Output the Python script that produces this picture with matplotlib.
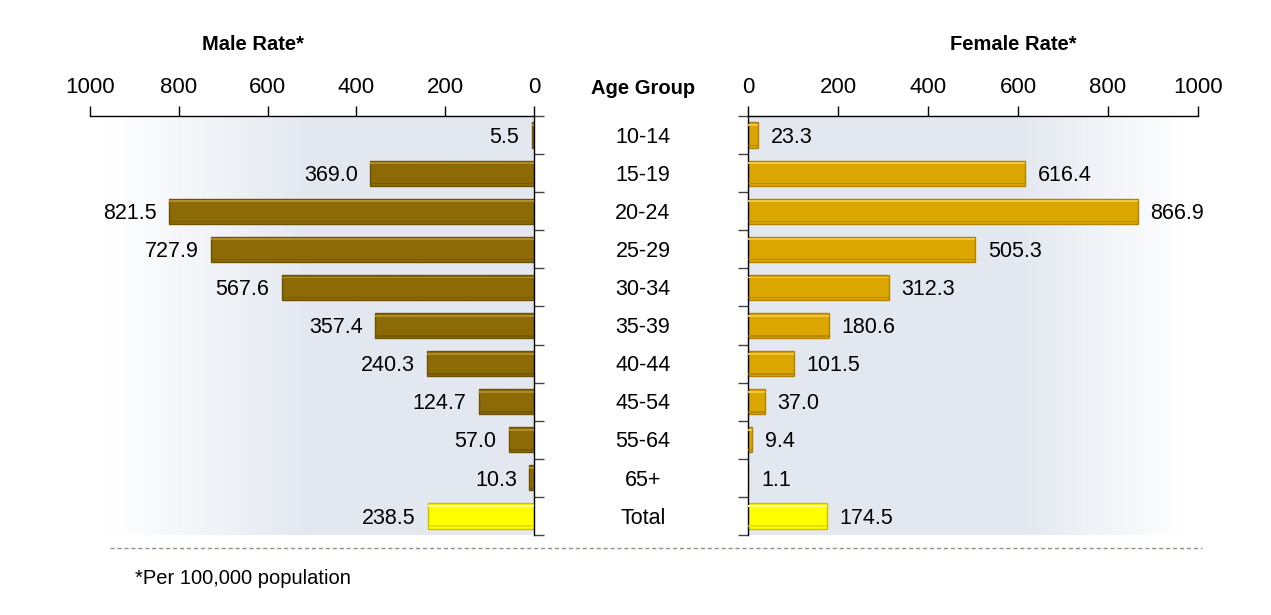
import numpy as np
import matplotlib
matplotlib.use("Agg")
import matplotlib.pyplot as plt
from matplotlib.transforms import blended_transform_factory, offset_copy
from matplotlib.lines import Line2D
from matplotlib.colors import to_rgb

plt.rcParams['font.family'] = ['Liberation Sans', 'DejaVu Sans']

age_groups = ["10-14", "15-19", "20-24", "25-29", "30-34", "35-39",
              "40-44", "45-54", "55-64", "65+", "Total"]
male_rate = [5.5, 369.0, 821.5, 727.9, 567.6, 357.4, 240.3, 124.7, 57.0, 10.3, 238.5]
female_rate = [23.3, 616.4, 866.9, 505.3, 312.3, 180.6, 101.5, 37.0, 9.4, 1.1, 174.5]
x_ticks = [0, 200, 400, 600, 800, 1000]

W, H = 1271, 615
fig = plt.figure(figsize=(W / 100, H / 100), dpi=100)

def fx(px):
    return px / W

def fy(py):
    return 1 - py / H

top, bottom = 116, 535
ax_m = fig.add_axes([fx(90), fy(bottom), fx(534) - fx(90), fy(top) - fy(bottom)])
ax_f = fig.add_axes([fx(748), fy(bottom), fx(1198) - fx(748), fy(top) - fy(bottom)])

bg = np.array(to_rgb("#e3e8f0"))
white = np.array([1.0, 1.0, 1.0])

def gradient(fr_color_start, fr_color_end, reverse=False):
    xs = np.linspace(0, 1, 400)
    t = np.clip((xs - fr_color_start) / (fr_color_end - fr_color_start), 0, 1)
    if reverse:
        t = 1 - t
    img = white[None, :] * (1 - t[:, None]) + bg[None, :] * t[:, None]
    return img[None, :, :]

ax_m.imshow(gradient(0.04, 0.5), extent=(0, 1, 0, 1), transform=ax_m.transAxes,
            aspect='auto', zorder=0, interpolation='bilinear')
ax_f.imshow(gradient(0.6, 0.97, reverse=True), extent=(0, 1, 0, 1), transform=ax_f.transAxes,
            aspect='auto', zorder=0, interpolation='bilinear')

n = len(age_groups)
y = np.arange(n)
bh = 0.66

def draw_bars(ax, vals, face, edge, light, dark):
    faces = [face] * (n - 1) + ["#ffff00"]
    edges = [edge] * (n - 1) + ["#c8c000"]
    lights = [light] * (n - 1) + ["#ffff90"]
    darks = [dark] * (n - 1) + ["#dcd400"]
    ax.barh(y, vals, height=bh, color=faces, edgecolor=edges, linewidth=1.0, zorder=2)
    ax.barh(y - bh / 2 + 0.07, vals, height=0.05, color=lights, linewidth=0, zorder=3)
    ax.barh(y + bh / 2 - 0.06, vals, height=0.04, color=darks, linewidth=0, zorder=3,
            alpha=0.7)

draw_bars(ax_m, male_rate, "#8c6a06", "#6e5204", "#b08c2a", "#6e5204")
draw_bars(ax_f, female_rate, "#dba600", "#b08300", "#f2c63a", "#a67c00")

for ax in (ax_m, ax_f):
    ax.set_ylim(n - 0.5, -0.5)
    ax.set_xlim(0, 1000)
    ax.xaxis.tick_top()
    ax.set_xticks(x_ticks)
    ax.set_xticklabels([str(t) for t in x_ticks])
    ax.tick_params(axis='x', direction='out', length=7, width=1, pad=6,
                   labelsize=16, colors='black')
    ax.set_yticks(np.arange(-0.5, n, 1.0))
    ax.set_yticklabels([])
    ax.spines['bottom'].set_visible(False)
    for s in ax.spines.values():
        s.set_linewidth(1.0)
        s.set_color('black')

ax_m.set_xlim(1000, 0)
ax_m.spines['left'].set_visible(False)
ax_m.yaxis.tick_right()
ax_m.tick_params(axis='y', direction='out', length=7, width=1, colors='#444444')

ax_f.spines['right'].set_visible(False)
ax_f.yaxis.tick_left()
ax_f.tick_params(axis='y', direction='out', length=7, width=1, colors='#444444')

for i, v in enumerate(male_rate):
    ax_m.annotate(f"{v:.1f}", (v, i), xytext=(-9, -1.6), textcoords='offset points',
                  ha='right', va='center', fontsize=15.5, zorder=4)
for i, v in enumerate(female_rate):
    ax_f.annotate(f"{v:.1f}", (v, i), xytext=(9, -1.6), textcoords='offset points',
                  ha='left', va='center', fontsize=15.5, zorder=4)

tr = offset_copy(blended_transform_factory(fig.transFigure, ax_m.transData),
                 fig=fig, x=0, y=-1.6, units='points')
for i, g in enumerate(age_groups):
    ax_m.text(fx(643), i, g, transform=tr, ha='center', va='center',
              fontsize=15.5, clip_on=False)

fig.text(fx(253), fy(44), "Male Rate*", ha='center', va='center',
         fontsize=14.5, fontweight='bold')
fig.text(fx(1013), fy(44), "Female Rate*", ha='center', va='center',
         fontsize=14.5, fontweight='bold')
fig.text(fx(643), fy(88), "Age Group", ha='center', va='center',
         fontsize=14.5, fontweight='bold')

fig.add_artist(Line2D([fx(110), fx(1202)], [fy(548), fy(548)], transform=fig.transFigure,
                      color='#9a8f84', linewidth=1.0, linestyle=(0, (3, 2))))
fig.text(fx(135), fy(578), "*Per 100,000 population", ha='left', va='center',
         fontsize=14.5)

fig.savefig("out.png", dpi=100)
